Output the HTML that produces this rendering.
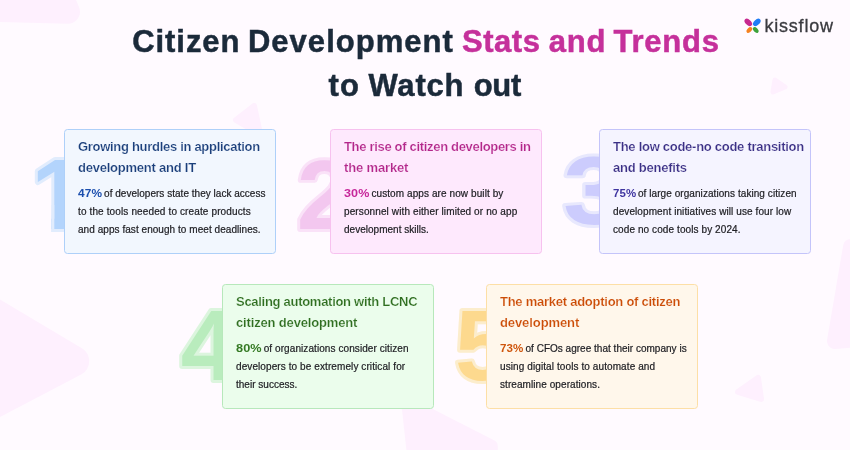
<!DOCTYPE html>
<html lang="en">
<head>
<meta charset="utf-8">
<title>Citizen Development Stats and Trends to Watch out</title>
<style>
html,body{margin:0;padding:0;}
body{width:850px;height:450px;overflow:hidden;background:#fffaff;font-family:"Liberation Sans",sans-serif;position:relative;}
#bg{position:absolute;left:0;top:0;width:850px;height:450px;}
h1{position:absolute;left:0;top:0;width:850px;height:110px;margin:0;font-size:31px;line-height:44px;font-weight:700;color:#1b2a3a;-webkit-text-stroke:0.5px currentColor;}
h1 .t1,h1 .t2{position:absolute;left:0;width:850px;height:44px;white-space:nowrap;display:block;}
h1 .t1{top:19.95px;} h1 .t2{top:63.75px;}
h1 span span{position:absolute;top:0;}
h1 .p{color:#c5309b;}
.logo{position:absolute;left:744px;top:14px;height:24px;width:100px;}
.logo span{position:absolute;left:20.5px;top:0.3px;font-size:18px;line-height:24px;color:#3a3a3f;letter-spacing:0.78px;-webkit-text-stroke:0.3px #3a3a3f;}
.card{position:absolute;width:210px;height:123px;border:1px solid;border-radius:3.5px;box-sizing:content-box;}
.card h2{position:absolute;left:13px;top:6px;margin:0;width:195px;font-size:13px;line-height:21.3px;font-weight:700;letter-spacing:-0.28px;white-space:nowrap;-webkit-text-stroke:0.2px var(--bg);}
.card p{position:absolute;left:13px;top:54.7px;letter-spacing:0.085px;margin:0;width:195px;font-size:10px;line-height:18px;color:#202025;white-space:nowrap;-webkit-text-stroke-width:0.2px;}
.card p b{-webkit-text-stroke-width:0;font-size:11.4px;display:inline-block;transform-origin:0 50%;line-height:1;}
.c1{--bg:#f2f7fe;left:64px;top:129px;background:#f2f7fe;border-color:#aed0f9;}
.c1 h2{color:#1b3f7b;} .c1 b{color:#1c4fae;}
.c2{--bg:#fee9fd;left:330px;top:129px;background:#fee9fd;border-color:#f7c1ef;}
.c2 h2{color:#b3278a;} .c2 b{color:#c6279a;}
.c3{--bg:#f5f4ff;left:599px;top:129px;background:#f5f4ff;border-color:#c4c4fa;}
.c3 h2{color:#3b3086;} .c3 b{color:#3f35a0;}
.c4{--bg:#ebfdec;left:222px;top:284px;background:#ebfdec;border-color:#b7e8bb;}
.c4 h2{color:#2f6e20;} .c4 b{color:#357a24;}
.c5{--bg:#fff7eb;left:486px;top:284px;background:#fff7eb;border-color:#fddfa6;}
.c5 h2{color:#cc4c06;} .c5 b{color:#cf560d;}
</style>
</head>
<body>
<svg id="bg" viewBox="0 0 850 450">
 <g fill="#fef0fe" stroke="#fef0fe" stroke-linejoin="round">
  <path d="M-30,-30 L53,-23 L68,11.7 L-30,9.1 Z" stroke-width="24"/>
  <path d="M254,106 L236,120 L260,134 Z" stroke-width="6"/>
  <path d="M775,80 L785,87 L773,92 Z" stroke-width="5"/>
  <path d="M-20,305.1 L74.2,361.2 L-20,410.5 Z" stroke-width="30"/>
  <path d="M851,247 L835,341 L860,339 Z" stroke-width="16"/>
  <path d="M738,392 L758,378 L761,399 Z" stroke-width="6"/>
  <path d="M408.5,404.5 L490.8,446.6 L490.8,470 L415.6,470 Z" stroke-width="14"/>
 </g>
</svg>
<h1><span class="t1"><span class="d" style="left:132.15px;letter-spacing:0.954px">Citizen</span> <span class="d" style="left:247.95px;letter-spacing:1.02px">Development</span> <span class="p" style="left:461.9px;letter-spacing:0.559px">Stats</span> <span class="p" style="left:548.75px;letter-spacing:0.812px">and</span> <span class="p" style="left:613.45px;letter-spacing:0.780px">Trends</span></span> <span class="t2"><span class="d" style="left:328.45px;letter-spacing:1.277px">to</span> <span class="d" style="left:368.45px;letter-spacing:0.797px">Watch</span> <span class="d" style="left:473.65px;letter-spacing:-0.236px">out</span></span></h1>
<div class="logo">
 <svg width="30" height="24" viewBox="0 0 30 24" style="position:absolute;left:-4px;top:0px">
  <ellipse cx="8.3" cy="8.4" rx="2.75" ry="4.55" transform="rotate(-45 8.3 8.4)" fill="#c7288f"/>
  <ellipse cx="16.8" cy="8.4" rx="2.75" ry="4.55" transform="rotate(45 16.8 8.4)" fill="#1f7cf6"/>
  <ellipse cx="9.35" cy="16" rx="2.1" ry="3.4" transform="rotate(45 9.35 16)" fill="#f5821f"/>
  <ellipse cx="15.75" cy="16" rx="2.1" ry="3.4" transform="rotate(-45 15.75 16)" fill="#3da23a"/>
 </svg>
 <span>kissflow</span>
</div>

<svg id="nums" viewBox="0 0 850 450" style="position:absolute;left:0;top:0;width:850px;height:450px" font-family="Liberation Sans, sans-serif" font-weight="700" font-size="100" stroke-width="6" stroke-linejoin="round" paint-order="stroke">
 <clipPath id="c1"><path d="M0,0H850V450H51.3V205H0Z"/></clipPath>
 <text x="31" y="229" fill="#b3d4fc" stroke="#e1ecfd" clip-path="url(#c1)">1</text>
 <rect x="51.3" y="205" width="3" height="27" fill="#e1ecfd"/>
 <text transform="translate(296.8,229.4) scale(1,0.975)" x="0" y="0" fill="#f3c7ef" stroke="#fae2f8">2</text>
 <text transform="translate(563.0,224.3) scale(1.13,0.965)" x="0" y="0" fill="#ccccfd" stroke="#e8e8fd">3</text>
 <text x="180.8" y="380" fill="#b9ecbd" stroke="#dcf5de">4</text>
 <text x="455" y="379.5" fill="#fdd98e" stroke="#fcedcd">5</text>
</svg>

<div class="card c1"><h2><span style="letter-spacing:-0.296px">Growing hurdles in application</span><br><span style="letter-spacing:-0.232px">development and IT</span></h2>
<p><b style="transform:scaleX(1.042);margin-right:0.11px">47%</b> <span style="letter-spacing:0.022px">of developers state they lack access</span><br><span style="letter-spacing:0.131px">to the tools needed to create products</span><br><span style="letter-spacing:0.051px">and apps fast enough to meet deadlines.</span></p></div>
<div class="card c2"><h2><span style="letter-spacing:-0.318px">The rise of citizen developers in</span><br><span style="letter-spacing:-0.152px">the market</span></h2>
<p><b style="transform:scaleX(1.103);margin-right:1.49px">30%</b> <span style="letter-spacing:0.089px">custom apps are now built by</span><br><span style="letter-spacing:0.113px">personnel with either limited or no app</span><br><span style="letter-spacing:0.017px">development skills.</span></p></div>
<div class="card c3"><h2><span style="letter-spacing:-0.272px">The low code-no code transition</span><br><span style="letter-spacing:-0.232px">and benefits</span></h2>
<p><b style="transform:scaleX(1.006);margin-right:-0.99px">75%</b> <span style="letter-spacing:0.068px">of large organizations taking citizen</span><br><span style="letter-spacing:0.093px">development initiatives will use four low</span><br><span style="letter-spacing:0.093px">code no code tools by 2024.</span></p></div>
<div class="card c4"><h2><span style="letter-spacing:-0.285px">Scaling automation with LCNC</span><br><span style="letter-spacing:-0.156px">citizen development</span></h2>
<p><b style="transform:scaleX(1.115);margin-right:1.77px">80%</b> <span style="letter-spacing:0.080px">of organizations consider citizen</span><br><span style="letter-spacing:0.093px">developers to be extremely critical for</span><br><span style="letter-spacing:0.016px">their success.</span></p></div>
<div class="card c5"><h2><span style="letter-spacing:-0.254px">The market adoption of citizen</span><br><span style="letter-spacing:-0.092px">development</span></h2>
<p><b style="transform:scaleX(1.018);margin-right:-0.44px">73%</b> <span style="letter-spacing:0.015px">of CFOs agree that their company is</span><br><span style="letter-spacing:0.097px">using digital tools to automate and</span><br><span style="letter-spacing:0.074px">streamline operations.</span></p></div>
</body>
</html>
